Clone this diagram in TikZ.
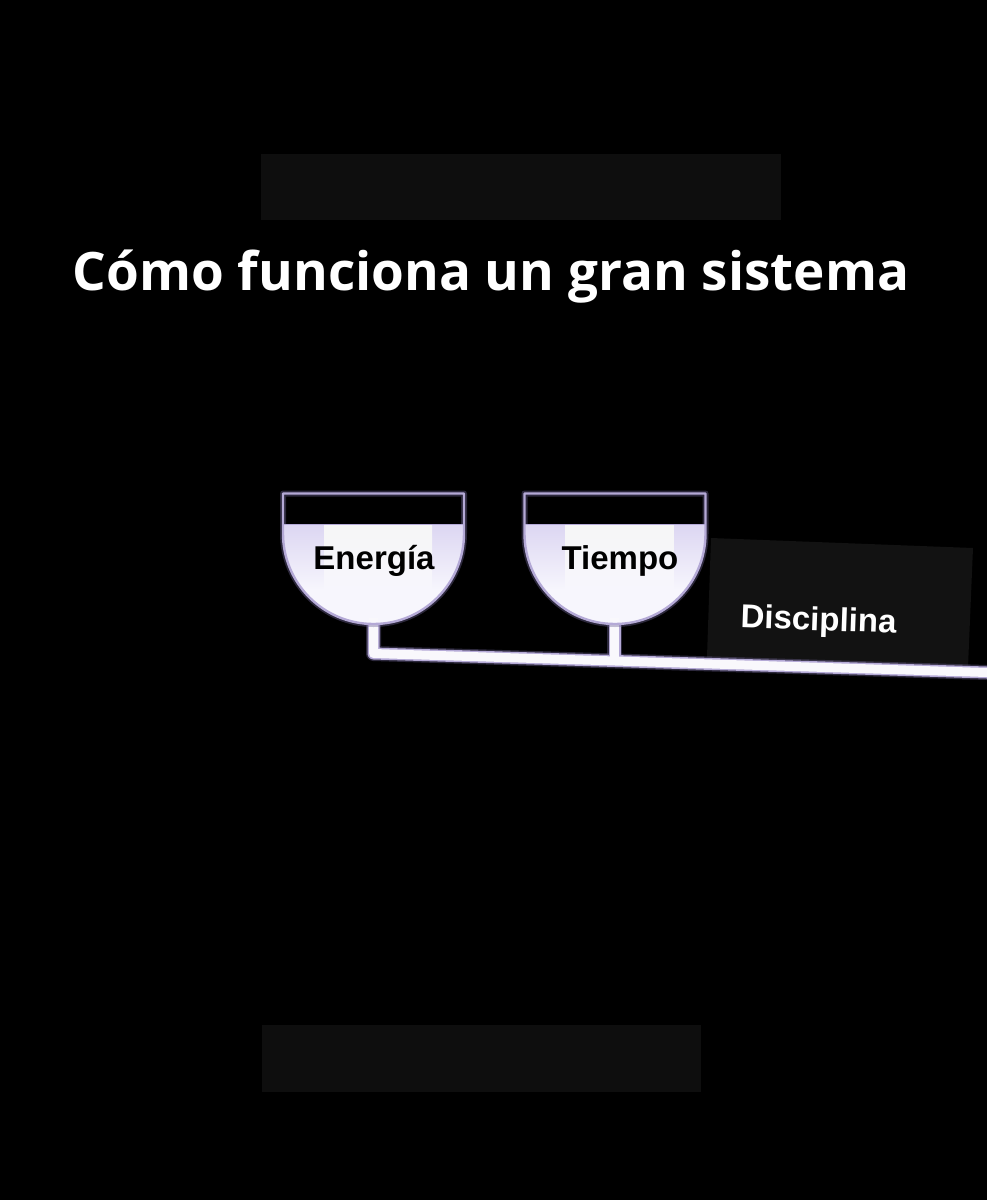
\documentclass[tikz,border=0pt]{standalone}
\usepackage{fontspec}
\setmainfont{Liberation Sans}
\newfontfamily\titlefont{Open Sans}
\definecolor{rimc}{HTML}{B4A9D6}
\definecolor{glowc}{HTML}{6F6496}
\definecolor{bowltop}{HTML}{DCD6F2}
\definecolor{bowlbot}{HTML}{F7F6FD}
\definecolor{paper}{HTML}{F6F6F6}
\definecolor{patchc}{HTML}{0E0E0E}
\definecolor{patchd}{HTML}{121212}
\tikzset{
  patch/.style={fill=patchc,draw=none},
  glow/.style={draw=glowc,line width=#1,opacity=.4,line join=round},
  rimline/.style={draw=rimc,line width=2.4pt,line join=round},
  pipecore/.style={draw=white!92!rimc,line width=9pt,line join=round},
  pipeedge/.style={draw=rimc,line width=12pt,line join=round},
  pipeglow/.style={draw=glowc,line width=15pt,opacity=.4,line join=round},
  bowllabel/.style={font=\bfseries\fontsize{33}{36}\selectfont,text=black,inner sep=0pt},
}
\newcommand{\bowlshape}[1]{(#1-90.5,524) -- (#1-90.5,533.5) arc[start angle=180,end angle=0,radius=90.5] -- (#1+90.5,524) -- cycle}
\newcommand{\bowlrim}[1]{(#1-90.5,533.5) -- (#1-90.5,493.5) -- (#1+90.5,493.5) -- (#1+90.5,533.5) arc[start angle=0,end angle=180,radius=90.5] -- cycle}
\newcommand{\bowlfill}[1]{%
  \draw[glow=6pt] \bowlrim{#1};
  \begin{scope}
    \clip \bowlshape{#1};
    \fill[bowlbot] (#1-91,590) rectangle (#1+91,626);
    \fill[top color=bowltop,bottom color=bowlbot] (#1-91,524) rectangle (#1+91,590);
    \fill[top color=paper,bottom color=bowlbot] (#1-49.5,524) rectangle (#1+58.5,590);
  \end{scope}
  \draw[rimline] \bowlrim{#1};
  \draw[rimc,line width=1pt] (#1-90.5,524) -- (#1+90.5,524);
}
\begin{document}
\begin{tikzpicture}[x=1pt,y=-1pt]
\useasboundingbox (0,0) rectangle (987,1200);
\fill[black] (0,0) rectangle (987,1200);
% redaction patches
\fill[patch] (261,154) rectangle (781,220);
\fill[patch] (262,1025) rectangle (701,1092);
\fill[patchd] (711,538) -- (973,548) -- (968,667) -- (707,657) -- cycle;
% anchors
\coordinate (pipeL) at (373.5,653.5);
\coordinate (pipeM) at (614.5,661);
\coordinate (pipeR) at (990,672.6);
\coordinate (bowlA) at (373.5,622);
\coordinate (bowlB) at (614.5,622);
% stems and pipe
\draw[pipeglow] (bowlA) -- (pipeL) -- (pipeR);
\draw[pipeglow] (bowlB) -- (pipeM);
\draw[pipeedge] (bowlA) -- (pipeL) -- (pipeR);
\draw[pipeedge] (bowlB) -- (pipeM);
\draw[pipecore] (bowlA) -- (pipeL) -- (pipeR);
\draw[pipecore] (bowlB) -- (pipeM);
% bowls
\bowlfill{373.5}
\bowlfill{615}
% stems over bowl bottoms
\draw[white!92!rimc,line width=9pt] (373.5,618) -- (bowlA);
\draw[white!92!rimc,line width=9pt] (bowlB) -- (614.5,618);
% text
\node[inner sep=0pt,text=white,font=\titlefont\bfseries\fontsize{53}{56}\selectfont] (title) at (491,277) {Cómo funciona un gran sistema};
\node[bowllabel] (energia) at (374,561) {Energía};
\node[bowllabel] (tiempo) at (620,561) {Tiempo};
\node[bowllabel,text=white,rotate=-2] (disciplina) at (818.5,622) {Disciplina};
\end{tikzpicture}
\end{document}
